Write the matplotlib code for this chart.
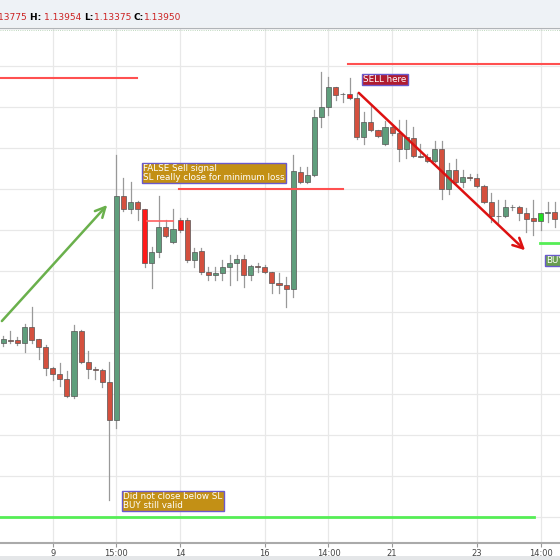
import matplotlib
matplotlib.use("Agg")
import matplotlib.pyplot as plt
from matplotlib.patches import Rectangle

# OHLC (EURUSD-like prices)
opens = [1.13824, 1.13832, 1.13832, 1.13824, 1.13863, 1.13834, 1.13815, 1.13763, 1.13749, 1.13737,
         1.13695, 1.13854, 1.13778, 1.13761, 1.13759, 1.13729, 1.13637, 1.14183, 1.14151, 1.14168,
         1.14151, 1.14020, 1.14046, 1.14107, 1.14071, 1.14124, 1.14124, 1.14027, 1.14049, 1.13998,
         1.13990, 1.13995, 1.14010, 1.14020, 1.14029, 1.13990, 1.14012, 1.14010, 1.13998, 1.13971,
         1.13966, 1.13956, 1.14241, 1.14217, 1.14234, 1.14376, 1.14400, 1.14449, 1.14432, 1.14432,
         1.14422, 1.14327, 1.14363, 1.14344, 1.14310, 1.14351, 1.14337, 1.14298, 1.14324, 1.14280,
         1.14278, 1.14268, 1.14298, 1.14200, 1.14246, 1.14217, 1.14229, 1.14227, 1.14207, 1.14168,
         1.14134, 1.14134, 1.14156, 1.14156, 1.14141, 1.14129, 1.14122, 1.14141, 1.14144]
highs = [1.13841, 1.13854, 1.13839, 1.13871, 1.13912, 1.13834, 1.13820, 1.13766, 1.13776, 1.13756,
         1.13868, 1.13856, 1.13805, 1.13766, 1.13761, 1.13778, 1.14283, 1.14227, 1.14217, 1.14171,
         1.14151, 1.14059, 1.14183, 1.14124, 1.14151, 1.14129, 1.14129, 1.14056, 1.14056, 1.14010,
         1.14010, 1.14027, 1.14039, 1.14039, 1.14039, 1.14015, 1.14020, 1.14015, 1.13998, 1.13995,
         1.13985, 1.14283, 1.14254, 1.14254, 1.14393, 1.14485, 1.14473, 1.14449, 1.14434, 1.14471,
         1.14434, 1.14388, 1.14405, 1.14344, 1.14366, 1.14356, 1.14368, 1.14368, 1.14351, 1.14310,
         1.14285, 1.14317, 1.14317, 1.14263, 1.14273, 1.14246, 1.14237, 1.14237, 1.14210, 1.14190,
         1.14173, 1.14173, 1.14161, 1.14159, 1.14154, 1.14173, 1.14141, 1.14168, 1.14168]
lows = [1.13817, 1.13824, 1.13820, 1.13802, 1.13824, 1.13785, 1.13746, 1.13734, 1.13720, 1.13693,
        1.13690, 1.13776, 1.13739, 1.13737, 1.13717, 1.13442, 1.13617, 1.14146, 1.14141, 1.14124,
        1.14010, 1.13959, 1.14034, 1.14083, 1.14068, 1.14095, 1.14022, 1.14010, 1.13993, 1.13978,
        1.13978, 1.13978, 1.13966, 1.13978, 1.13961, 1.13978, 1.13998, 1.13995, 1.13946, 1.13946,
        1.13912, 1.13937, 1.14215, 1.14215, 1.14232, 1.14351, 1.14380, 1.14417, 1.14412, 1.14420,
        1.14322, 1.14310, 1.14341, 1.14327, 1.14307, 1.14332, 1.14268, 1.14276, 1.14278, 1.14278,
        1.14266, 1.14266, 1.14176, 1.14188, 1.14215, 1.14205, 1.14222, 1.14205, 1.14166, 1.14120,
        1.14117, 1.14132, 1.14149, 1.14124, 1.14095, 1.14088, 1.14100, 1.14120, 1.14107]
closes = [1.13834, 1.13829, 1.13824, 1.13863, 1.13832, 1.13815, 1.13763, 1.13749, 1.13737, 1.13695,
          1.13854, 1.13778, 1.13761, 1.13759, 1.13729, 1.13637, 1.14183, 1.14151, 1.14168, 1.14151,
          1.14020, 1.14046, 1.14107, 1.14085, 1.14102, 1.14100, 1.14027, 1.14046, 1.13998, 1.13990,
          1.13995, 1.14010, 1.14020, 1.14029, 1.13990, 1.14012, 1.14010, 1.13998, 1.13971, 1.13966,
          1.13956, 1.14244, 1.14217, 1.14234, 1.14376, 1.14400, 1.14449, 1.14429, 1.14431, 1.14422,
          1.14327, 1.14363, 1.14344, 1.14329, 1.14351, 1.14337, 1.14298, 1.14327, 1.14280, 1.14279,
          1.14268, 1.14298, 1.14200, 1.14246, 1.14217, 1.14229, 1.14227, 1.14207, 1.14168, 1.14134,
          1.14133, 1.14156, 1.14155, 1.14141, 1.14127, 1.14122, 1.14141, 1.14144, 1.14127]
highlight_red = [20, 25, 49]
highlight_green = [76]

tick_pos = [7, 16, 25, 37, 46, 55, 67, 76]
tick_labels = ["9", "15:00", "14", "16", "14:00", "21", "23", "14:00"]

fig = plt.figure(figsize=(5.6, 5.6), dpi=100)
fig.patch.set_facecolor("white")
ax = fig.add_axes([0, 0.0304, 1, 0.9178])
ax.set_xlim(-0.47, 78.75)
ax.set_ylim(1.13337, 1.14590)

for i in range(len(opens)):
    o, h, l, c = opens[i], highs[i], lows[i], closes[i]
    if i in highlight_red:
        col = "#ff1a1a"
    elif i in highlight_green:
        col = "#22dd22"
    elif c >= o:
        col = "#5f9e7c"
    else:
        col = "#d4503e"
    ax.plot([i, i], [l, h], color="#999999", lw=0.9, zorder=2)
    b = max(abs(c - o), 0.000012)
    ax.add_patch(Rectangle((i - 0.36, min(o, c)), 0.72, b, facecolor=col,
                           edgecolor="#555555", lw=0.5, zorder=3))

# horizontal levels
ax.plot([-0.47, 18.9], [1.14471, 1.14471], color="#ff5050", lw=1.5, zorder=4)
ax.plot([24.85, 48.05], [1.14200, 1.14200], color="#ff5050", lw=1.5, zorder=4)
ax.plot([20.3, 24.0], [1.14122, 1.14122], color="#ff6060", lw=1.2, zorder=4)
ax.plot([48.8, 78.75], [1.14505, 1.14505], color="#ff5050", lw=1.5, zorder=4)
ax.plot([-0.47, 75.1], [1.13400, 1.13400], color="#55ee55", lw=2, zorder=4)
ax.plot([75.9, 78.75], [1.14068, 1.14068], color="#55ee55", lw=2, zorder=4)

# arrows
ax.annotate("", xy=(14.96, 1.14166), xytext=(-0.47, 1.13873),
            arrowprops=dict(arrowstyle="->", color="#6ab04c", lw=1.8, mutation_scale=18), zorder=5)
ax.annotate("", xy=(74.1, 1.14046), xytext=(50.0, 1.14439),
            arrowprops=dict(arrowstyle="->", color="#dd1111", lw=1.8, mutation_scale=18), zorder=5)

# labels
box = dict(boxstyle="square,pad=0.15", edgecolor="#6a5acd", lw=1)
ax.text(19.8, 1.14261, "FALSE Sell signal\nSL really close for minimum loss", color="white",
        fontsize=6.3, va="top", linespacing=0.95, bbox=dict(box, facecolor="#c39015"), zorder=6)
ax.text(50.9, 1.14478, "SELL here", color="white", fontsize=6.3, va="top",
        bbox=dict(box, facecolor="#b01c30"), zorder=6)
ax.text(17.0, 1.13461, "Did not close below SL\nBUY still valid", color="white",
        fontsize=6.3, va="top", linespacing=0.95, bbox=dict(box, facecolor="#c39015"), zorder=6)
ax.text(76.8, 1.14037, "BUY", color="white", fontsize=6.3, va="top",
        bbox=dict(box, facecolor="#6a9e50"), zorder=6)

ax.set_yticks([1.1340 + 0.001 * k for k in range(12)])
ax.set_xticks(tick_pos)
ax.set_xticklabels(tick_labels, fontsize=6, color="#444444")
ax.tick_params(axis="x", length=3, pad=1, color="#999999")
ax.tick_params(axis="y", length=0, labelleft=False)
ax.grid(True, color="#e8e8e8", lw=0.9)
ax.set_axisbelow(True)
for s in ["top", "left", "right"]:
    ax.spines[s].set_visible(False)
ax.spines["bottom"].set_color("#aaaaaa")
ax.spines["bottom"].set_linewidth(1.5)

# header band
fig.patches.append(Rectangle((0, 1 - 27 / 560), 1, 27 / 560, transform=fig.transFigure,
                             facecolor="#eef2f6", edgecolor="none"))
fig.lines.append(plt.Line2D([0, 1], [1 - 27.5 / 560] * 2, transform=fig.transFigure,
                            color="#b0b4b8", lw=1))
fig.lines.append(plt.Line2D([0, 1], [1 - 30 / 560] * 2, transform=fig.transFigure,
                            color="#aaccaa", lw=0.6, ls=":"))
x0 = -2 / 560
parts = [("13775 ", "#cc2222", "normal"), ("H: ", "black", "bold"), ("1.13954 ", "#cc2222", "normal"),
         ("L:", "black", "bold"), ("1.13375 ", "#cc2222", "normal"), ("C:", "black", "bold"),
         ("1.13950", "#cc2222", "normal")]
r = fig.canvas.get_renderer()
for txt, col, w in parts:
    t = fig.text(x0, 1 - 18 / 560, txt, color=col, fontsize=6.5, weight=w, va="center")
    x0 += t.get_window_extent(r).width / 560

# bottom band
fig.patches.append(Rectangle((0, 0), 1, 4 / 560, transform=fig.transFigure,
                             facecolor="#e4e6e8", edgecolor="none"))

fig.savefig("out.png", dpi=100)
